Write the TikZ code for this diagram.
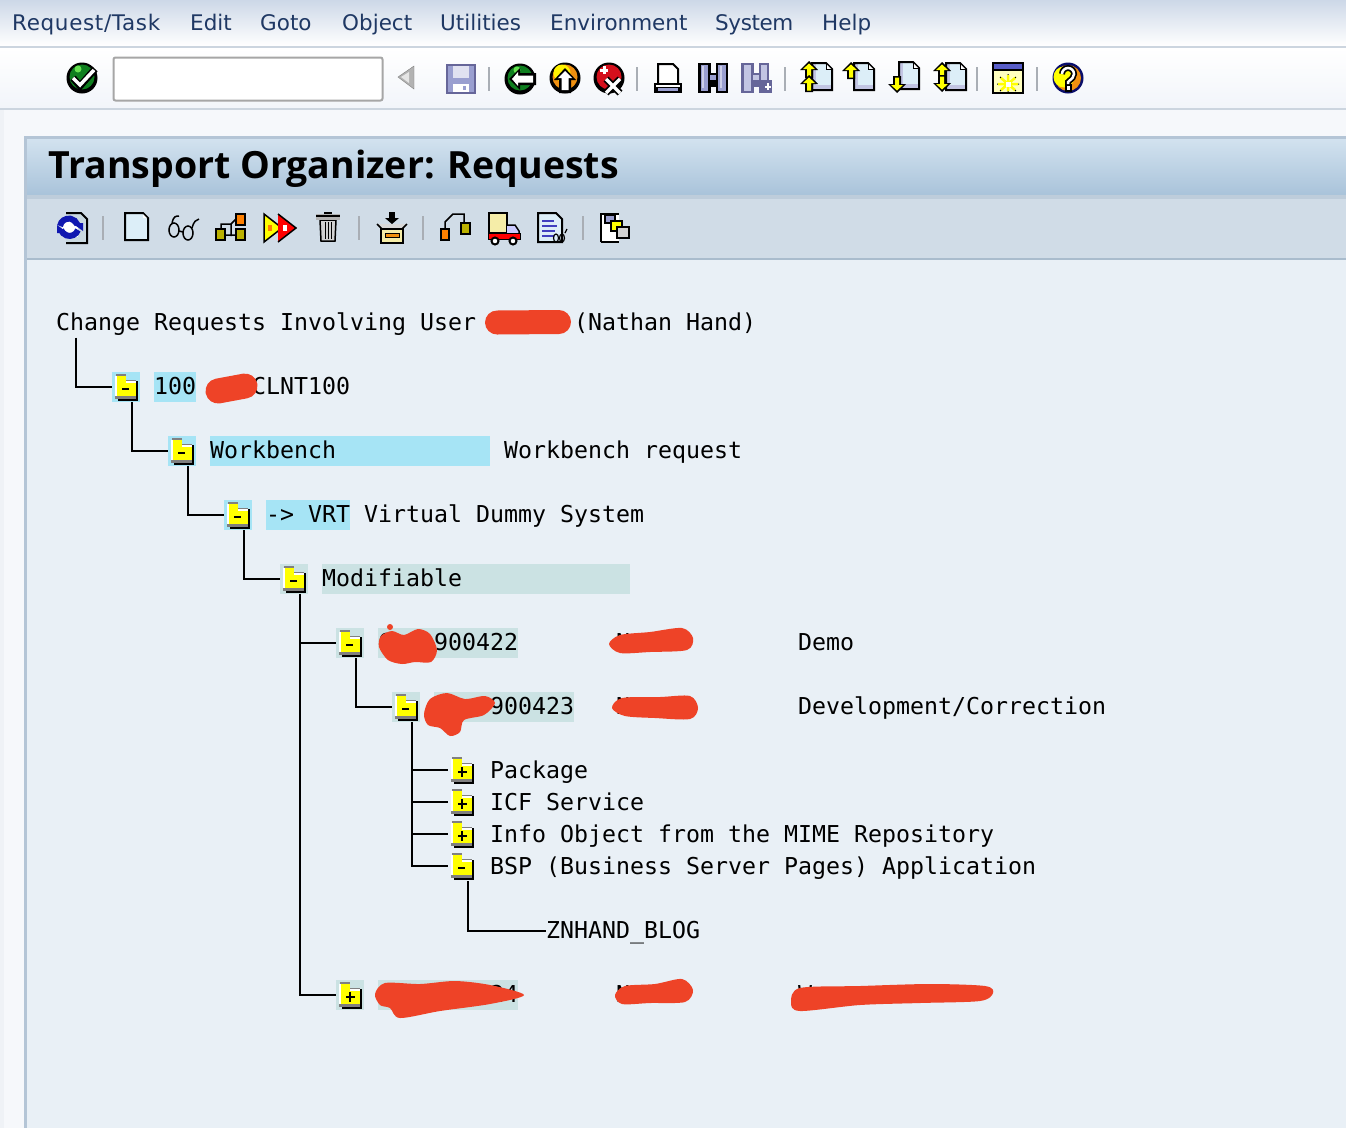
\documentclass[tikz,border=0pt]{standalone}
\usepackage{fontspec}
\setmainfont{DejaVu Sans}
\newfontfamily\menufont{DejaVu Sans}
\newfontfamily\menuwide[LetterSpace=3]{DejaVu Sans}
\newfontfamily\menutight[LetterSpace=-2]{DejaVu Sans}
\newfontfamily\titlefont{Open Sans}
\newfontfamily\treefont{DejaVu Sans Mono}
\definecolor{body}{HTML}{E9F0F6}
\definecolor{hlcyan}{HTML}{A6E4F5}
\definecolor{hlteal}{HTML}{CBE2E3}
\definecolor{scrib}{HTML}{EE4327}
\definecolor{menutxt}{HTML}{1F3864}
\definecolor{sepc}{HTML}{A9AEB5}
\definecolor{iconblue}{HTML}{9A9FD0}
\definecolor{pagec}{HTML}{DCEEF8}
\definecolor{fy}{HTML}{FFFF00}
\definecolor{menutop}{HTML}{CDD8E8}
\definecolor{rule}{HTML}{CCD5DF}
\definecolor{tooltop}{HTML}{FFFFFF}
\definecolor{toolbot}{HTML}{F2F5FA}
\definecolor{strip}{HTML}{F6F8FB}
\definecolor{stripedge}{HTML}{EFF2F6}
\definecolor{pborder}{HTML}{B4C5D6}
\definecolor{tbtop}{HTML}{D2E2EF}
\definecolor{tbbot}{HTML}{A9C3DA}
\definecolor{divider}{HTML}{BECDDB}
\definecolor{appbar}{HTML}{D0DCE7}
\definecolor{appline}{HTML}{A9BCCD}
\definecolor{ballgreen}{HTML}{0F7F1F}
\definecolor{ballhi}{HTML}{66E050}
\definecolor{ballred}{HTML}{D5101C}
\definecolor{ballorange}{HTML}{F09010}
\definecolor{refblue}{HTML}{1018B0}
\definecolor{truckbox}{HTML}{F5EDA8}
\newcommand{\folderbase}{%
  \fill[black] (-8,-6) rectangle (12,14);
  \fill[gray] (-11,9) rectangle (10,12);
  \fill[gray] (-10,-13) rectangle (0,-11);
  \fill[gray] (0,-7.5) rectangle (10,-6);
  \fill[white] (-11,-11) rectangle (-9,9);
  \fill[fy] (-9,-11) rectangle (0,-4);
  \fill[white] (0,-6) rectangle (10,-4);
  \fill[fy] (-9,-4) rectangle (10,9);
}
\tikzset{
  x=1pt,y=-1pt,
  menuitem/.style={anchor=base west,inner sep=0,font=\menufont\fontsize{21.5}{24}\selectfont,text=menutxt},
  txt/.style={anchor=west,inner sep=0,text height=22.5pt,text depth=7.5pt,font=\treefont\fontsize{23.25}{26}\selectfont},
  hlc/.style={txt,fill=hlcyan,text width=#1},
  hlt/.style={txt,fill=hlteal,text width=#1},
  fbox/.style={inner sep=0,minimum width=28pt,minimum height=30pt},
  conn/.style={draw=black,line width=2pt},
  scribble/.style={draw=scrib,line width=#1,line cap=round},
  sep/.style={draw=sepc,line width=2pt},
  blob/.style={fill=scrib},
  ik/.style={draw=black,line width=2pt,line join=miter},
  foldermin/.pic={\folderbase \fill[black] (-4,1) rectangle (3,3);},
  folderplus/.pic={\folderbase \fill[black] (-4.5,1) rectangle (4.5,3); \fill[black] (-1,-3) rectangle (1,7);},
  icheck/.pic={
    \fill[black] (0,0) circle[radius=15.5];
    \fill[ballgreen] (0,-1) circle[radius=12.5];
    \fill[ballhi] (-4,-9) circle[radius=3.5];
    \draw[black,line width=7pt] (-9,0) -- (-2,8) -- (13,-9);
    \draw[white,line width=3.5pt] (-9,0) -- (-2,7) -- (12,-8);
  },
  iback/.pic={
    \fill[black] (0,0) circle[radius=15.5];
    \fill[ballgreen] (0,-1) circle[radius=12.5];
    \fill[ballhi] (-3,-9) circle[radius=3.5];
    \fill[black] (-11,0) -- (0,-11) -- (0,-6) -- (16,-6) -- (16,6) -- (0,6) -- (0,11) -- cycle;
    \fill[white] (-8,0) -- (-2,-7) -- (-2,-3.5) -- (13,-3.5) -- (13,3.5) -- (-2,3.5) -- (-2,7) -- cycle;
  },
  iup/.pic={
    \fill[black] (0,0) circle[radius=15.5];
    \fill[ballorange] (0,-1) circle[radius=12.5];
    \fill[yellow] (-3,-5) circle[radius=8.5];
    \fill[black] (0,-10) -- (11,2) -- (6,2) -- (6,15) -- (-6,15) -- (-6,2) -- (-11,2) -- cycle;
    \fill[white] (0,-7) -- (7,0) -- (3.5,0) -- (3.5,12) -- (-3.5,12) -- (-3.5,0) -- (-7,0) -- cycle;
  },
  icancel/.pic={
    \fill[black] (0,0) circle[radius=15.5];
    \fill[ballred] (0,-1) circle[radius=12.5];
    \fill[white] (-6.5,-12) rectangle (-3.5,-4);
    \fill[white] (-9,-9.5) rectangle (-1,-6.5);
    \draw[black,line width=7pt] (-3,1) -- (11,15) (11,1) -- (-3,15);
    \draw[white,line width=3.5pt] (-3,1) -- (11,15) (11,1) -- (-3,15);
  },
  ifloppy/.pic={
    \fill[iconblue] (-15,-15) rectangle (15,15);
    \draw[gray!80!blue,line width=1.5pt] (-14,-14) rectangle (14,14);
    \fill[white!70!iconblue] (-8,-13) rectangle (8,-1);
    \fill[white] (-8,5) rectangle (8,13);
    \fill[iconblue] (2,7) rectangle (5,11);
  },
  iprint/.pic={
    \fill[white] (-10,-14) -- (5,-14) -- (10,-9) -- (10,5) -- (-10,5) -- cycle;
    \draw[ik] (-10,5) -- (-10,-14) -- (5,-14) -- (10,-9) -- (10,5);
    \fill[black] (-14,5) rectangle (14,15);
    \fill[white] (-12,7) rectangle (12,9);
    \fill[iconblue] (-10,10) rectangle (10,13);
  },
  ifind/.pic={
    \fill[black] (-15,-15) rectangle (-2.5,15);
    \fill[black] (2.5,-15) rectangle (15,15);
    \fill[black] (-3,-5) rectangle (3,9);
    \fill[iconblue] (-12.5,-13) rectangle (-5,13);
    \fill[iconblue] (5,-13) rectangle (12.5,13);
    \fill[iconblue] (-3,-3) rectangle (3,2);
    \fill[white!50!iconblue] (-11,-12) rectangle (-9,10);
    \fill[white!50!iconblue] (6.5,-12) rectangle (8.5,10);
  },
  ifindnext/.pic={
    \fill[gray!80!blue] (-15,-15) rectangle (-2.5,15);
    \fill[gray!80!blue] (2.5,-15) rectangle (13,15);
    \fill[gray!80!blue] (-3,-5) rectangle (3,9);
    \fill[iconblue!60!white] (-12.5,-13) rectangle (-5,13);
    \fill[iconblue!60!white] (5,-13) rectangle (10.5,13);
    \fill[iconblue!60!white] (-3,-3) rectangle (3,2);
    \fill[gray!80!blue] (5,2) rectangle (16,15);
    \fill[white] (9,7.5) rectangle (15,9.5);
    \fill[white] (11,5) rectangle (13,12);
  },
  ipage/.pic={
    \fill[pagec] (-9,-13) -- (5,-13) -- (11,-7) -- (11,14) -- (-9,14) -- cycle;
    \fill[iconblue!60!white] (-8,9) rectangle (10,13);
    \fill[iconblue!60!white] (-8,-12) rectangle (-5,13);
    \draw[ik] (-9,-13) -- (5,-13) -- (11,-7) -- (11,14) -- (-9,14) -- cycle;
    \fill[white] (5,-12) -- (10,-7) -- (5,-7) -- cycle;
    \draw[black,line width=1pt] (5,-13) -- (5,-7) -- (11,-7);
  },
  yup/.pic={
    \fill[black] (0,-9) -- (9,0) -- (4,0) -- (4,8) -- (-4,8) -- (-4,0) -- (-9,0) -- cycle;
    \fill[fy] (0,-6.5) -- (6,-1) -- (2,-1) -- (2,6.5) -- (-2,6.5) -- (-2,-1) -- (-6,-1) -- cycle;
  },
  ywin/.pic={
    \fill[white] (-15,-15) rectangle (15,15);
    \fill[refblue!70!white] (-14,-14) rectangle (14,-8);
    \fill[fy!25!white] (-14,-8) rectangle (14,15);
    \draw[ik] (-15,-15) rectangle (15,15);
    \draw[black,line width=1.5pt] (-15,-8) -- (15,-8);
    \draw[black,line width=1pt] (-8,-1) -- (8,13) (8,-1) -- (-8,13) (0,-4) -- (0,14) (-11,6) -- (11,6);
    \draw[fy,line width=2.5pt] (-7,0) -- (7,12) (7,0) -- (-7,12) (0,-3) -- (0,13) (-10,6) -- (10,6);
    \fill[white] (-2.5,3.5) rectangle (2.5,8.5);
  },
  ihelp/.pic={
    \fill[refblue!60!black] (0,0) circle[radius=15.5];
    \fill[ballorange] (0,0) circle[radius=13];
    \fill[fy] (-4,-1) circle[radius=10.5];
    \draw[black,line width=6pt] (-6,-4) arc[start angle=-180,end angle=40,radius=6] -- (0,4) -- (0,6);
    \fill[black] (-3.5,6) rectangle (3.5,14);
    \draw[white,line width=2.5pt] (-6,-4) arc[start angle=-180,end angle=40,radius=6] -- (0,4) -- (0,6);
    \fill[white] (-1.5,8) rectangle (1.5,12);
  },
  irefresh/.pic={
    \fill[pagec!80!gray] (-6,-15) -- (9,-15) -- (15,-9) -- (15,15) -- (-6,15) -- cycle;
    \draw[black,line width=2pt] (-6,-15) -- (9,-15) -- (15,-9) -- (15,15) -- (-6,15);
    \fill[white] (-10,-8) rectangle (6,9);
    \draw[refblue,line width=6pt] (-12,-2) arc[start angle=-170,end angle=-20,radius=9];
    \draw[refblue,line width=6pt] (6,2) arc[start angle=20,end angle=160,radius=9];
    \fill[refblue] (0,-5) -- (11,-5) -- (11,3) -- cycle;
    \fill[refblue] (-15,5) -- (-4,5) -- (-15,-3) -- cycle;
  },
  inew/.pic={
    \fill[pagec] (-11,-14) -- (7,-14) -- (12,-9) -- (12,13) -- (-11,13) -- cycle;
    \draw[ik] (-11,-14) -- (7,-14) -- (12,-9) -- (12,13) -- (-11,13) -- cycle;
    \fill[white] (7,-13) -- (11,-9) -- (7,-9) -- cycle;
  },
  iglasses/.pic={
    \draw[black,line width=1.5pt] (-10,2) ellipse[x radius=5,y radius=7];
    \draw[black,line width=1.5pt] (4,5) ellipse[x radius=5,y radius=7];
    \draw[black,line width=1.5pt] (-12,-4) .. controls (-11,-12) and (-8,-12) .. (-5,-12);
    \draw[black,line width=1.5pt] (8,0) .. controls (10,-7) and (12,-8) .. (15,-9);
    \draw[black,line width=1.5pt] (-5,3) -- (-1,4);
  },
  itree/.pic={
    \fill[olive!60!yellow] (-15,2) rectangle (-6,13);
    \fill[olive!60!yellow] (5,2) rectangle (14,13);
    \fill[orange] (5,-13) rectangle (14,-2);
    \draw[black,line width=1.5pt] (-15,2) rectangle (-6,13) (5,2) rectangle (14,13) (5,-13) rectangle (14,-2);
    \draw[black,line width=1.5pt] (-10,2) -- (-10,-3) -- (0,-3) -- (5,-8) (0,-3) -- (0,9) (-6,8) -- (5,8);
  },
  iactivate/.pic={
    \fill[fy] (-16,-14) -- (2,0) -- (-16,14) -- cycle;
    \draw[black,line width=1.5pt] (-16,-14) -- (2,0) -- (-16,14) -- cycle;
    \fill[red] (-2,-14) -- (16,0) -- (-2,14) -- cycle;
    \draw[black,line width=1.5pt] (-2,-14) -- (16,0) -- (-2,14);
    \fill[white] (3,-3) rectangle (7,3);
    \fill[orange] (-12,-3) rectangle (-8,3);
  },
  itrash/.pic={
    \fill[gray!35] (-8,-7) -- (8,-7) -- (7,14) -- (-7,14) -- cycle;
    \draw[black,line width=1.5pt] (-8,-7) -- (8,-7) -- (7,14) -- (-7,14) -- cycle;
    \draw[black,line width=1pt] (-3,-5) -- (-3,12) (0,-5) -- (0,12) (3,-5) -- (3,12);
    \fill[gray!60] (-12,-13) rectangle (12,-7);
    \draw[black,line width=1.5pt] (-12,-11) -- (12,-11) (-4,-14) -- (4,-14);
  },
  ibox/.pic={
    \fill[black] (-3,-15) rectangle (3,-9);
    \fill[black] (-7,-9) -- (7,-9) -- (0,-3) -- cycle;
    \fill[white!70!gray] (-15,-3) -- (15,-3) -- (10,2) -- (-10,2) -- cycle;
    \draw[black,line width=1.5pt] (-15,-3) -- (-10,2) -- (10,2) -- (15,-3);
    \fill[truckbox] (-11,2) rectangle (11,16);
    \draw[black,line width=1.5pt] (-11,2) rectangle (11,16);
    \fill[ballorange] (-7,6) rectangle (7,10);
    \draw[black,line width=1pt] (-7,6) rectangle (7,10);
  },
  iswitch/.pic={
    \fill[orange] (-15,2) rectangle (-7,13);
    \draw[black,line width=1.5pt] (-15,2) rectangle (-7,13);
    \fill[olive!60!yellow] (5,-4) rectangle (14,7);
    \draw[black,line width=1.5pt] (5,-4) rectangle (14,7);
    \draw[black,line width=1.5pt] (-11,2) -- (-11,-5) -- (-3,-13) -- (8,-13) -- (8,-4);
  },
  itruck/.pic={
    \fill[truckbox] (-15,-15) rectangle (3,5);
    \draw[black,line width=1.5pt] (-15,-15) rectangle (3,5);
    \fill[white!80!blue] (3,-3) -- (11,-3) -- (15,3) -- (15,8) -- (3,8) -- cycle;
    \draw[black,line width=1.5pt] (3,-3) -- (11,-3) -- (15,3) -- (15,8);
    \fill[red] (-16,5) rectangle (16,11);
    \draw[black,line width=1pt] (-16,5) rectangle (16,11);
    \draw[black,fill=white,line width=2pt] (-9,13) circle[radius=3.5];
    \draw[black,fill=white,line width=2pt] (9,13) circle[radius=3.5];
  },
  idoc/.pic={
    \fill[pagec] (-14,-15) -- (4,-15) -- (10,-9) -- (10,14) -- (-14,14) -- cycle;
    \draw[ik] (-14,-15) -- (4,-15) -- (10,-9) -- (10,14) -- (-14,14) -- cycle;
    \draw[blue!50!gray,line width=1.5pt] (-10,-7) -- (2,-7) (-10,-2) -- (5,-2) (-10,3) -- (3,3) (-10,8) -- (2,8);
    \draw[black,line width=1.2pt] (4,10) ellipse[x radius=2.5,y radius=4] (10,10) ellipse[x radius=2.5,y radius=4] (13,5) -- (15,1);
  },
  icopy/.pic={
    \fill[white] (-14,-14) rectangle (4,14);
    \draw[ik] (-14,14) -- (-14,-14) -- (4,-14) (-14,14) -- (4,14);
    \fill[iconblue] (-10,-13) rectangle (0,-5);
    \draw[black,line width=1.5pt] (-10,-13) rectangle (0,-5);
    \fill[fy] (-4,-7) rectangle (7,3);
    \draw[black,line width=1.5pt] (-4,-7) rectangle (7,3);
    \fill[gray!35] (2,-1) rectangle (14,10);
    \draw[black,line width=1.5pt] (2,-1) rectangle (14,10);
  }
}
\begin{document}
\begin{tikzpicture}[x=1pt,y=-1pt]
\useasboundingbox (0,0) rectangle (1346,1128);
% window bands
\fill[strip] (0,0) rectangle (1346,1128);
\shade[top color=menutop,bottom color=white] (0,0) rectangle (1346,46);
\fill[rule] (0,46) rectangle (1346,48);
\shade[top color=tooltop,bottom color=toolbot] (0,48) rectangle (1346,108);
\fill[rule] (0,108) rectangle (1346,110);
\fill[stripedge] (0,110) rectangle (4,1128);
\fill[body] (25,136) rectangle (1346,1128);
\fill[pborder] (24,136) rectangle (27,1128);
% title bar
\shade[top color=tbtop,bottom color=tbbot] (27,139) rectangle (1346,195);
\fill[pborder] (24,136) rectangle (1346,139);
\fill[divider] (27,195) rectangle (1346,199);
\fill[appbar] (27,199) rectangle (1346,258);
\fill[appline] (27,258) rectangle (1346,260);
% menu
\node[menuitem,font=\menuwide\fontsize{21.5}{24}\selectfont] (m1) at (12,30) {Request/Task};
\node[menuitem] (m2) at (190,30) {Edit};
\node[menuitem] (m3) at (260,30) {Goto};
\node[menuitem] (m4) at (342,30) {Object};
\node[menuitem] (m5) at (440,30) {Utilities};
\node[menuitem] (m6) at (550,30) {Environment};
\node[menuitem,font=\menutight\fontsize{21.5}{24}\selectfont] (m7) at (715,30) {System};
\node[menuitem] (m8) at (822,30) {Help};
% title
\node[anchor=base west,inner sep=0,font=\titlefont\bfseries\fontsize{37.5}{40}\selectfont] (title) at (48,178.5) {Transport Organizer: Requests};
% system toolbar
\pic at (82,78) {icheck};
\node[draw=black!35,line width=2pt,rounded corners=2pt,fill=white,minimum width=269pt,minimum height=43pt,inner sep=0] (cmd) at (248,79) {};
\fill[gray!60,draw=gray] (398,77) -- (414,66) -- (414,89) -- cycle;
\fill[white!80!gray] (401,77) -- (409,72) -- (409,83) -- cycle;
\pic at (461,79) {ifloppy};
\draw[sep] (489,67) -- (489,91);
\pic at (520,79) {iback};
\pic at (565,78) {iup};
\pic at (609,78) {icancel};
\draw[sep] (637,67) -- (637,91);
\pic at (668,78) {iprint};
\pic at (713,78) {ifind};
\pic at (756,78) {ifindnext};
\draw[sep] (785,67) -- (785,91);
\pic at (821,76) {ipage}; \pic at (809,70) {yup}; \pic at (809,84) {yup};
\pic at (863,76) {ipage}; \pic at (851,71) {yup};
\pic at (908,75) {ipage}; \pic[yscale=-1] at (897,84) {yup};
\pic at (955,76) {ipage}; \pic at (942,71) {yup}; \pic[yscale=-1] at (942,83) {yup};
\draw[sep] (977,67) -- (977,91);
\pic at (1008,78) {ywin};
\draw[sep] (1037,67) -- (1037,91);
\pic at (1068,78) {ihelp};
% application toolbar
\pic at (72,228) {irefresh};
\draw[sep] (103,216) -- (103,240);
\pic at (136,227) {inew};
\pic at (184,228) {iglasses};
\pic at (231,227) {itree};
\pic at (280,228) {iactivate};
\pic at (328,227) {itrash};
\draw[sep] (359,216) -- (359,240);
\pic at (392,227) {ibox};
\draw[sep] (423,216) -- (423,240);
\pic at (456,227) {iswitch};
\pic at (504,228) {itruck};
\pic at (552,228) {idoc};
\draw[sep] (583,216) -- (583,240);
\pic at (615,228) {icopy};
% tree
\node[txt] (root) at (56,322.5) {Change Requests Involving User};
\node[txt] (rootn) at (506,322.5) {NN};
\node[txt] (rootname) at (574,322.5) {(Nathan Hand)};
\node[fbox,fill=hlcyan] (f1) at (126,387) {};
\node[fbox,fill=hlcyan] (f2) at (182,451) {};
\node[fbox,fill=hlcyan] (f3) at (238,515) {};
\node[fbox,fill=hlteal] (f4) at (294,579) {};
\node[fbox,fill=hlteal] (f5) at (350,643) {};
\node[fbox,fill=hlteal] (f6) at (406,707) {};
\node[fbox] (c1) at (462,770) {};
\node[fbox] (c2) at (462,802) {};
\node[fbox] (c3) at (462,834) {};
\node[fbox] (c4) at (462,866) {};
\node[fbox,fill=hlteal] (f7) at (350,995) {};
\pic at (f1) {foldermin}; \pic at (f2) {foldermin}; \pic at (f3) {foldermin};
\pic at (f4) {foldermin}; \pic at (f5) {foldermin}; \pic at (f6) {foldermin};
\pic at (c1) {folderplus}; \pic at (c2) {folderplus}; \pic at (c3) {folderplus};
\pic at (c4) {foldermin}; \pic at (f7) {folderplus};
\node[hlc=42pt] (t1) at (154,387) {100};
\node[txt] (t1b) at (252,387) {CLNT100};
\node[hlc=280pt] (t2) at (210,451) {Workbench};
\node[txt] (t2b) at (504,451) {Workbench request};
\node[hlc=84pt] (t3) at (266,515) {->\hspace*{14pt}VRT};
\node[txt] (t3b) at (364,515) {Virtual Dummy System};
\node[hlt=308pt] (t4) at (322,579) {Modifiable};
\node[hlt=140pt] (t5) at (378,643) {C\hspace*{42pt}900422};
\node[txt] (t5n) at (616,643) {N};
\node[txt] (t5b) at (798,643) {Demo};
\node[hlt=140pt] (t6) at (434,707) {\hspace*{56pt}900423};
\node[txt] (t6n) at (616,707) {NN};
\node[txt] (t6b) at (798,707) {Development/Correction};
\node[txt] (l1) at (490,770.5) {Package};
\node[txt] (l2) at (490,802.5) {ICF Service};
\node[txt] (l3) at (490,834.5) {Info Object from the MIME Repository};
\node[txt] (l4) at (490,866.5) {BSP (Business Server Pages) Application};
\node[txt] (zn) at (546,930.5) {ZNHAND\_BLOG};
\node[hlt=140pt] (t7) at (378,995) {\hspace*{112pt}24};
\node[txt] (t7n) at (616,995) {N};
\node[txt] (t7b) at (798,995) {W};
% connectors
\draw[conn] ([xshift=20pt]root.south west) |- (f1.west);
\draw[conn] ([xshift=6pt]f1.south) |- (f2.west);
\draw[conn] ([xshift=6pt]f2.south) |- (f3.west);
\draw[conn] ([xshift=6pt]f3.south) |- (f4.west);
\draw[conn] ([xshift=6pt]f4.south) |- (f5.west);
\draw[conn] ([xshift=6pt]f4.south) |- (f7.west);
\draw[conn] ([xshift=6pt]f5.south) |- (f6.west);
\draw[conn] ([xshift=6pt]f6.south) |- (c1.west);
\draw[conn] ([xshift=6pt]f6.south) |- (c2.west);
\draw[conn] ([xshift=6pt]f6.south) |- (c3.west);
\draw[conn] ([xshift=6pt]f6.south) |- (c4.west);
\draw[conn] ([xshift=6pt]c4.south) |- (zn.west);
% scribbles
\draw[scribble=24pt] (497,322.5) -- (559,322);
\draw[scribble=25pt] (218,391) -- (245,386);
\fill[blob] plot[smooth cycle] coordinates {(379,647) (381,636) (392,631) (404,635) (418,629) (430,634) (437,650) (431,662) (415,662) (402,664) (388,660)};
\fill[blob] (390,627) circle[radius=3];
\fill[blob] plot[smooth cycle] coordinates {(609,644) (620,635) (650,632) (682,628) (693,638) (687,650) (650,652) (620,653)};
\fill[blob] plot[smooth cycle] coordinates {(424,714) (430,699) (447,693) (465,699) (485,696) (495,703) (484,715) (464,720) (460,732) (450,736) (440,728) (428,725)};
\fill[blob] plot[smooth cycle] coordinates {(612,708) (622,698) (660,697) (690,696) (698,708) (690,719) (655,718) (625,716)};
\fill[blob] plot[smooth cycle] coordinates {(375,994) (385,983) (420,984) (455,981) (490,985) (524,995) (490,1004) (440,1011) (400,1018) (390,1008) (380,1005)};
\fill[blob] plot[smooth cycle] coordinates {(615,995) (625,986) (655,984) (682,979) (693,990) (685,1002) (650,1003) (622,1004)};
\fill[blob] plot[smooth cycle] coordinates {(791,1002) (800,988) (860,986) (930,984) (985,986) (993,993) (980,1001) (920,1003) (860,1005) (800,1011)};
\end{tikzpicture}
\end{document}
